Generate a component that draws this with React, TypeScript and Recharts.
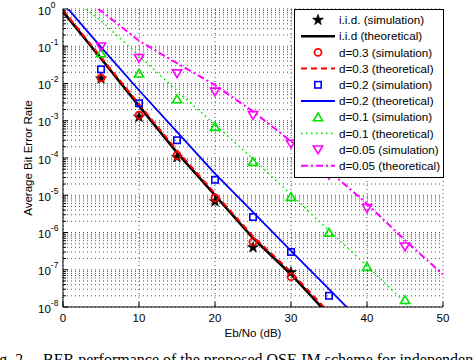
import React from 'react';
import { ComposedChart, Line, Scatter, XAxis, YAxis, CartesianGrid, Legend } from 'recharts';

// ---------- data (Eb/No in dB, average BER) ----------
const simX = [5, 10, 15, 20, 25, 30, 35, 40, 45];

const iidSim = [0.0135, 1.26e-3, 1.05e-4, 6.8e-6, 4.0e-7, 8.5e-8];
const d03Sim = [0.0141, 1.41e-3, 1.17e-4, 8.5e-6, 5.6e-7, 6.5e-8];
const d02Sim = [0.024, 2.95e-3, 3.0e-4, 2.6e-5, 2.6e-6, 3.0e-7, 2.0e-8];
const d01Sim = [0.065, 0.0186, 3.8e-3, 6.9e-4, 7.9e-5, 9.1e-6, 1.0e-6, 1.2e-7, 1.55e-8];
const d005Sim = [0.098, 0.048, 0.0186, 6.0e-3, 1.41e-3, 2.4e-4, 3.5e-5, 4.5e-6, 4.2e-7];

const iidTheoryX = [0, 5, 10, 15, 20, 25, 30, 35];
const iidTheoryY = [0.85, 0.047, 2.5e-3, 1.4e-4, 1.0e-5, 7.1e-7, 7.6e-8, 6.0e-9];
const d03TheoryX = [0, 5, 10, 15, 20, 25, 30, 35];
const d03TheoryY = [0.93, 0.051, 2.8e-3, 1.6e-4, 1.12e-5, 7.9e-7, 8.7e-8, 7.1e-9];
const d02TheoryX = [0, 5, 10, 15, 20, 25, 30, 35, 40];
const d02TheoryY = [1.45, 0.095, 6.6e-3, 5.0e-4, 3.8e-5, 3.5e-6, 3.2e-7, 3.0e-8, 2.8e-9];
const d01TheoryX = [3, 5, 10, 15, 20, 25, 30, 35, 40, 45, 50];
const d01TheoryY = [1.0, 0.48, 0.056, 6.3e-3, 7.9e-4, 9.5e-5, 1.05e-5, 1.12e-6, 1.26e-7, 1.32e-8, 1.4e-9];
const d005TheoryX = [4.6, 5, 10, 15, 20, 25, 30, 35, 40, 45, 50];
const d005TheoryY = [1.0, 0.89, 0.141, 0.035, 9.1e-3, 1.78e-3, 2.8e-4, 4.5e-5, 5.9e-6, 6.2e-7, 7.4e-8];

const xTicks = [0, 10, 20, 30, 40, 50];
const yExponents = [0, -1, -2, -3, -4, -5, -6, -7, -8];
const minorMultipliers = [2, 3, 4, 5, 6, 7, 8, 9];

const legendNames = [
  'i.i.d. (simulation)',
  'i.i.d (theoretical)',
  'd=0.3 (simulation)',
  'd=0.3 (theoretical)',
  'd=0.2 (simulation)',
  'd=0.2 (theoretical)',
  'd=0.1 (simulation)',
  'd=0.1 (theoretical)',
  'd=0.05 (simulation)',
  'd=0.05 (theoretical)',
];

// ---------- helpers ----------
const zip = (xs: number[], ys: number[]) => ys.map((y, i) => ({ x: xs[i], y }));

const yTicks: number[] = (() => {
  const t: number[] = [];
  yExponents.forEach((e) => {
    t.push(Math.pow(10, e));
    if (e < 0) minorMultipliers.forEach((m) => t.push(Number((m * Math.pow(10, e)).toPrecision(3))));
  });
  return t.sort((a, b) => a - b);
})();

const FONT = '"Liberation Sans", Arial, Helvetica, sans-serif';
const BLACK = '#000000';
const RED = '#ff0000';
const BLUE = '#0000ff';
const GREEN = '#00e600';
const MAGENTA = '#ff00ff';

// ---------- marker shapes ----------
const Star = ({ cx, cy }: any) => {
  const R = 5.8;
  const r = R * 0.4;
  const pts: string[] = [];
  for (let i = 0; i < 10; i++) {
    const a = -Math.PI / 2 + (i * Math.PI) / 5;
    const rad = i % 2 === 0 ? R : r;
    pts.push(`${cx + rad * Math.cos(a)},${cy + rad * Math.sin(a)}`);
  }
  return <polygon points={pts.join(' ')} fill={BLACK} stroke={BLACK} strokeWidth={0.6} />;
};
const CircleM = ({ cx, cy }: any) => (
  <circle cx={cx} cy={cy} r={3.5} fill="none" stroke={RED} strokeWidth={1.8} />
);
const SquareM = ({ cx, cy }: any) => (
  <rect x={cx - 3.2} y={cy - 3.2} width={6.4} height={6.4} fill="none" stroke={BLUE} strokeWidth={1.6} />
);
const TriUp = ({ cx, cy }: any) => (
  <polygon
    points={`${cx},${cy - 4.2} ${cx + 4.6},${cy + 3.6} ${cx - 4.6},${cy + 3.6}`}
    fill="none"
    stroke={GREEN}
    strokeWidth={1.6}
  />
);
const TriDown = ({ cx, cy }: any) => (
  <polygon
    points={`${cx},${cy + 4.2} ${cx + 4.6},${cy - 3.6} ${cx - 4.6},${cy - 3.6}`}
    fill="none"
    stroke={MAGENTA}
    strokeWidth={1.6}
  />
);

// ---------- axis ticks ----------
const isMajor = (v: number) => {
  const l = Math.log10(v);
  return Math.abs(l - Math.round(l)) < 1e-6;
};

const YTick = (props: any) => {
  const { x, y, payload, side } = props;
  const v = payload.value;
  const major = isMajor(v);
  const len = major ? 5 : 3;
  const dir = side === 'left' ? 1 : -1;
  const exp = Math.round(Math.log10(v));
  return (
    <g>
      <line x1={x} x2={x + dir * len} y1={y} y2={y} stroke={BLACK} strokeWidth={1} />
      {side === 'left' && major && (
        <g fontFamily={FONT} fill={BLACK}>
          <text x={x - 25} y={y + 5.6} fontSize={11.5}>
            10
          </text>
          <text x={x - 12.2} y={y - 1.5} fontSize={8.5}>
            {exp === 0 ? '0' : `-${Math.abs(exp)}`}
          </text>
        </g>
      )}
    </g>
  );
};

const XTick = (props: any) => {
  const { x, y, payload, side } = props;
  const dir = side === 'bottom' ? -1 : 1;
  return (
    <g>
      <line x1={x} x2={x} y1={y} y2={y + dir * 5} stroke={BLACK} strokeWidth={1} />
      {side === 'bottom' && (
        <text x={x} y={y + 15} fontSize={11.5} fontFamily={FONT} textAnchor="middle" fill={BLACK}>
          {payload.value}
        </text>
      )}
    </g>
  );
};

const YLabel = (props: any) => {
  const vb = props.viewBox || { x: 0, y: 9, width: 63, height: 298 };
  const cx = vb.x + 28;
  const cy = vb.y + vb.height / 2;
  return (
    <text
      x={cx}
      y={cy}
      transform={`rotate(-90 ${cx} ${cy})`}
      textAnchor="middle"
      dominantBaseline="central"
      fontSize={11.5}
      fontFamily={FONT}
      fill={BLACK}
    >
      Average Bit Error Rate
    </text>
  );
};

const XLabel = (props: any) => {
  const vb = props.viewBox || { x: 63, y: 307, width: 380, height: 53 };
  const cx = vb.x + vb.width / 2;
  const cy = vb.y + 25.5;
  return (
    <text x={cx} y={cy} textAnchor="middle" dominantBaseline="central" fontSize={11.5} fontFamily={FONT} fill={BLACK}>
      Eb/No (dB)
    </text>
  );
};

// ---------- legend ----------
type LegendItem = { kind: 'marker' | 'line'; color: string; dash?: string; width?: number; Marker?: any };
const legendItems: LegendItem[] = [
  { kind: 'marker', color: BLACK, Marker: Star },
  { kind: 'line', color: BLACK, width: 2.6 },
  { kind: 'marker', color: RED, Marker: CircleM },
  { kind: 'line', color: RED, width: 2, dash: '6 4' },
  { kind: 'marker', color: BLUE, Marker: SquareM },
  { kind: 'line', color: BLUE, width: 1.8 },
  { kind: 'marker', color: GREEN, Marker: TriUp },
  { kind: 'line', color: GREEN, width: 1.6, dash: '1.5 3.5' },
  { kind: 'marker', color: MAGENTA, Marker: TriDown },
  { kind: 'line', color: MAGENTA, width: 2, dash: '7 3 2 3' },
];

const LegendBox = () => (
  <svg width={150} height={169} style={{ display: 'block', background: '#fff' }}>
    <rect x={0.5} y={0.5} width={149} height={168} fill="#fff" stroke={BLACK} strokeWidth={1} />
    {legendItems.map((it, i) => {
      const cy = 11 + i * 16.2;
      return (
        <g key={i}>
          {it.kind === 'line' ? (
            <line x1={7} x2={41} y1={cy} y2={cy} stroke={it.color} strokeWidth={it.width} strokeDasharray={it.dash} />
          ) : (
            <it.Marker cx={24} cy={cy} />
          )}
          <text x={45} y={cy + 4.2} fontSize={11.7} fontFamily={FONT} fill={BLACK}>
            {legendNames[i]}
          </text>
        </g>
      );
    })}
  </svg>
);

// ---------- chart ----------
export default function App() {
  return (
    <div
      style={{
        position: 'absolute',
        left: 0,
        top: 0,
        width: 474,
        height: 360,
        background: '#fff',
        overflow: 'hidden',
      }}
    >
      <ComposedChart width={474} height={360} margin={{ top: 9, right: 31, bottom: 0, left: 0 }}>
        <CartesianGrid
          xAxisId="b"
          yAxisId="l"
          stroke="#555555"
          strokeWidth={1}
          strokeDasharray="1 3"
          vertical
          horizontal
        />
        <XAxis
          xAxisId="b"
          type="number"
          dataKey="x"
          domain={[0, 50]}
          allowDataOverflow
          ticks={xTicks}
          interval={0}
          height={53}
          tickSize={0}
          tickMargin={0}
          tickLine={false}
          axisLine={{ stroke: BLACK, strokeWidth: 1 }}
          tick={(p: any) => <XTick {...p} side="bottom" />}
          label={<XLabel />}
        />
        <XAxis
          xAxisId="t"
          orientation="top"
          type="number"
          dataKey="x"
          domain={[0, 50]}
          allowDataOverflow
          ticks={xTicks}
          interval={0}
          height={0}
          tickSize={0}
          tickMargin={0}
          tickLine={false}
          axisLine={{ stroke: BLACK, strokeWidth: 1 }}
          tick={(p: any) => <XTick {...p} side="top" />}
        />
        <YAxis
          yAxisId="l"
          type="number"
          dataKey="y"
          scale="log"
          domain={[1e-8, 1]}
          allowDataOverflow
          ticks={yTicks}
          interval={0}
          width={63}
          tickSize={0}
          tickMargin={0}
          tickLine={false}
          axisLine={{ stroke: BLACK, strokeWidth: 1 }}
          tick={(p: any) => <YTick {...p} side="left" />}
          label={<YLabel />}
        />
        <YAxis
          yAxisId="r"
          orientation="right"
          type="number"
          dataKey="y"
          scale="log"
          domain={[1e-8, 1]}
          allowDataOverflow
          ticks={yTicks}
          interval={0}
          width={0}
          tickSize={0}
          tickMargin={0}
          tickLine={false}
          axisLine={{ stroke: BLACK, strokeWidth: 1 }}
          tick={(p: any) => <YTick {...p} side="right" />}
        />

        <Scatter
          xAxisId="b"
          yAxisId="l"
          name={legendNames[0]}
          data={zip(simX, iidSim)}
          fill={BLACK}
          shape={(p: any) => <Star cx={p.cx} cy={p.cy} />}
          isAnimationActive={false}
        />
        <Line
          xAxisId="b"
          yAxisId="l"
          name={legendNames[1]}
          data={zip(iidTheoryX, iidTheoryY)}
          dataKey="y"
          type="linear"
          stroke={BLACK}
          strokeWidth={2.6}
          dot={false}
          activeDot={false}
          isAnimationActive={false}
        />
        <Scatter
          xAxisId="b"
          yAxisId="l"
          name={legendNames[2]}
          data={zip(simX, d03Sim)}
          fill={RED}
          shape={(p: any) => <CircleM cx={p.cx} cy={p.cy} />}
          isAnimationActive={false}
        />
        <Line
          xAxisId="b"
          yAxisId="l"
          name={legendNames[3]}
          data={zip(d03TheoryX, d03TheoryY)}
          dataKey="y"
          type="linear"
          stroke={RED}
          strokeWidth={2}
          strokeDasharray="6 4"
          dot={false}
          activeDot={false}
          isAnimationActive={false}
        />
        <Scatter
          xAxisId="b"
          yAxisId="l"
          name={legendNames[4]}
          data={zip(simX, d02Sim)}
          fill={BLUE}
          shape={(p: any) => <SquareM cx={p.cx} cy={p.cy} />}
          isAnimationActive={false}
        />
        <Line
          xAxisId="b"
          yAxisId="l"
          name={legendNames[5]}
          data={zip(d02TheoryX, d02TheoryY)}
          dataKey="y"
          type="linear"
          stroke={BLUE}
          strokeWidth={1.8}
          dot={false}
          activeDot={false}
          isAnimationActive={false}
        />
        <Scatter
          xAxisId="b"
          yAxisId="l"
          name={legendNames[6]}
          data={zip(simX, d01Sim)}
          fill={GREEN}
          shape={(p: any) => <TriUp cx={p.cx} cy={p.cy} />}
          isAnimationActive={false}
        />
        <Line
          xAxisId="b"
          yAxisId="l"
          name={legendNames[7]}
          data={zip(d01TheoryX, d01TheoryY)}
          dataKey="y"
          type="linear"
          stroke={GREEN}
          strokeWidth={1.6}
          strokeDasharray="1.5 3.5"
          dot={false}
          activeDot={false}
          isAnimationActive={false}
        />
        <Scatter
          xAxisId="b"
          yAxisId="l"
          name={legendNames[8]}
          data={zip(simX, d005Sim)}
          fill={MAGENTA}
          shape={(p: any) => <TriDown cx={p.cx} cy={p.cy} />}
          isAnimationActive={false}
        />
        <Line
          xAxisId="b"
          yAxisId="l"
          name={legendNames[9]}
          data={zip(d005TheoryX, d005TheoryY)}
          dataKey="y"
          type="linear"
          stroke={MAGENTA}
          strokeWidth={2}
          strokeDasharray="7 3 2 3"
          dot={false}
          activeDot={false}
          isAnimationActive={false}
        />

        <Legend
          layout="vertical"
          align="center"
          verticalAlign="middle"
          wrapperStyle={{ left: 294, top: 9, width: 150, height: 169, margin: 0, padding: 0 }}
          content={() => <LegendBox />}
        />
      </ComposedChart>
      <div
        style={{
          position: 'absolute',
          left: -14,
          top: 352.2,
          fontFamily: '"Liberation Serif", "Times New Roman", serif',
          fontSize: 16,
          lineHeight: '16px',
          whiteSpace: 'nowrap',
          color: '#000',
        }}
      >
        <span>Fig. 2.</span>
        <span style={{ marginLeft: 15.7 }}>BER performance of the proposed QSF-IM scheme for independent</span>
      </div>
    </div>
  );
}
